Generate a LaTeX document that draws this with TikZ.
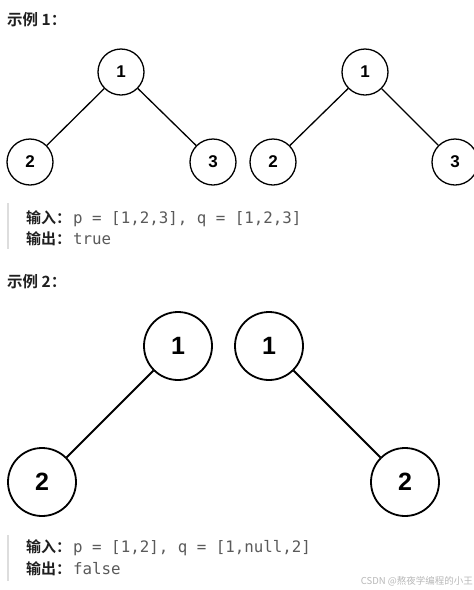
\documentclass[tikz,border=0pt]{standalone}
\usepackage{fontspec}
\setmainfont{Liberation Sans}
\newfontfamily\cjk{Noto Sans CJK SC}[BoldFont={Noto Sans CJK SC Bold}]
\newfontfamily\monof{DejaVu Sans Mono}
\definecolor{headc}{HTML}{1F1F1F}
\definecolor{codec}{HTML}{5A5A5A}
\definecolor{barc}{HTML}{DDDDDD}
\definecolor{wmc}{HTML}{B8B8B8}
\tikzset{
  smallnode/.style={circle, draw=black, line width=1.3pt, minimum size=46pt, inner sep=0pt,
    font=\bfseries\fontsize{17}{17}\selectfont},
  bignode/.style={circle, draw=black, line width=1.8pt, minimum size=68pt, inner sep=0pt,
    font=\bfseries\fontsize{25}{25}\selectfont},
  smalledge/.style={line width=1.3pt, draw=black},
  bigedge/.style={line width=1.8pt, draw=black},
  heading/.style={anchor=base west, inner sep=0pt, text=headc,
    font=\cjk\bfseries\fontsize{15.5}{15.5}\selectfont},
  lbl/.style={anchor=base west, inner sep=0pt, text=headc,
    font=\cjk\bfseries\fontsize{15}{15}\selectfont},
  code/.style={anchor=base west, inner sep=0pt, text=codec,
    font=\monof\fontsize{15.8}{15.8}\selectfont},
  bar/.style={line width=2pt, draw=barc}
}
\begin{document}
\begin{tikzpicture}[x=1pt,y=-1pt]
\useasboundingbox (0,0) rectangle (474,590);
\fill[white] (0,0) rectangle (474,590);

% Example 1
\node[heading] (h1) at (7,25) {示例 1：};

\node[smallnode] (a1) at (121,72) {1};
\node[smallnode] (a2) at (30,162) {2};
\node[smallnode] (a3) at (213,162) {3};
\draw[smalledge] (a1) -- (a2);
\draw[smalledge] (a1) -- (a3);

\node[smallnode] (b1) at (365,72) {1};
\node[smallnode] (b2) at (273,162) {2};
\node[smallnode] (b3) at (455,162) {3};
\draw[smalledge] (b1) -- (b2);
\draw[smalledge] (b1) -- (b3);

\coordinate (bar1t) at (8,203);
\coordinate (bar1b) at (8,249);
\draw[bar] (bar1t) -- (bar1b);
\node[lbl] (in1) at (26,223) {输入：};
\node[code] (in1v) at (73,223) {p = [1,2,3], q = [1,2,3]};
\node[lbl] (out1) at (26,244) {输出：};
\node[code] (out1v) at (73,244) {true};

% Example 2
\node[heading] (h2) at (7,287) {示例 2：};

\node[bignode] (c1) at (178,346) {1};
\node[bignode] (c2) at (42,482) {2};
\draw[bigedge] (c1) -- (c2);

\node[bignode] (d1) at (269,346) {1};
\node[bignode] (d2) at (405,482) {2};
\draw[bigedge] (d1) -- (d2);

\coordinate (bar2t) at (8,535);
\coordinate (bar2b) at (8,581);
\draw[bar] (bar2t) -- (bar2b);
\node[lbl] (in2) at (26,552) {输入：};
\node[code] (in2v) at (73,552) {p = [1,2], q = [1,null,2]};
\node[lbl] (out2) at (26,574) {输出：};
\node[code] (out2v) at (73,574) {false};

\node[anchor=east, inner sep=0pt, text=wmc, font=\cjk\fontsize{9.5}{9.5}\selectfont] (wm) at (473,581) {CSDN @熬夜学编程的小王};
\end{tikzpicture}
\end{document}
